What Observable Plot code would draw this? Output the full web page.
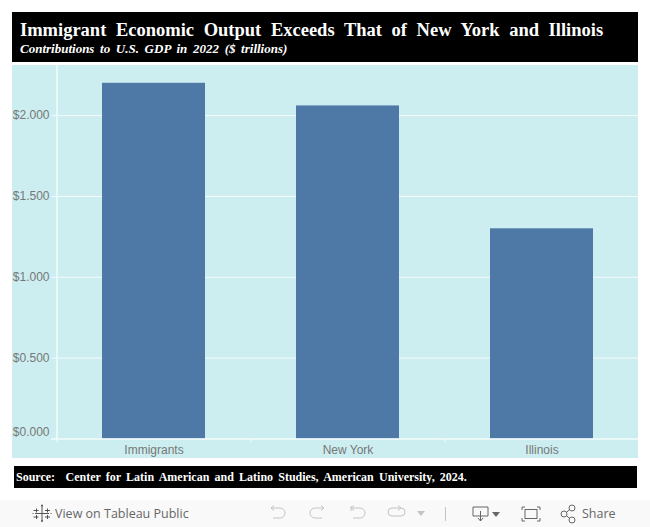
<!DOCTYPE html>
<html><head><meta charset="utf-8">
<script src="https://cdn.jsdelivr.net/npm/d3@7"></script>
<script src="https://cdn.jsdelivr.net/npm/@observablehq/plot@0.6"></script>
<style>
html,body{margin:0;padding:0;background:#fff;width:650px;height:527px;overflow:hidden}
.abs{position:absolute;box-sizing:border-box}
#head{left:12px;top:12px;width:626px;height:50px;background:#000;color:#fff;font-family:"Liberation Serif",serif;font-weight:bold}
#title{position:absolute;left:8px;top:8px;font-size:18.5px;line-height:20px;word-spacing:5px;white-space:nowrap}
#sub{position:absolute;left:8px;top:29px;font-size:13px;line-height:16px;font-style:italic;word-spacing:2.4px;white-space:nowrap}
#chart{left:12px;top:65px;width:626px;height:393px;background:#cceef0}
#chart svg{display:block;background:transparent}
#source{left:14px;top:466px;width:623px;height:22px;background:#000;color:#fff;font:bold 12px/22px "Liberation Serif",serif;padding-left:2px;word-spacing:2.2px;white-space:pre}
#bar{left:0;top:500px;width:650px;height:27px;background:#f9f9f9;color:#666;font-family:"Open Sans","Liberation Sans",sans-serif}
#bar span{position:absolute;top:6px;font-size:12.5px;line-height:15px;white-space:nowrap}
#bar svg{position:absolute;left:0;top:0}
</style></head>
<body>
<div id="head" class="abs"><div id="title">Immigrant Economic Output Exceeds That of New York and Illinois</div><div id="sub">Contributions to U.S. GDP in 2022 ($ trillions)</div></div>
<div id="chart" class="abs"></div>
<div id="source" class="abs">Source:  Center for Latin American and Latino Studies, American University, 2024.</div>
<div id="bar" class="abs">
<svg width="650" height="27" fill="none" stroke-width="1">
<g stroke="#555"><path d="M42 6v15M35 13.500h14M36.500 8.500v4M33.500 10.500h5M47.500 8.500v4M45 10.500h5M36.500 15v4M33.500 17h5M47.500 15v4M45 17h5M42 4.500v2M41 5.500h2M42 20v2M41 21h2M33 13v1M51 13v1"/></g>
<g stroke="#c4c4c4"><path d="M271 8h9a5 5 0 0 1 0 10h-7M271 8l3 -2.500M271 8l3 2.500"/><path d="M324 8h-9a5 5 0 0 0 0 10h7M324 8l-3 -2.500M324 8l-3 2.500"/><path d="M351 6v5M351 8h9a5 5 0 0 1 0 10h-7M351 8l3 -2.500M351 8l3 2.500"/><path d="M401 8h-9a4 4 0 0 0 0 8h9a4 4 0 0 0 0 -8M401 8l-3 -2.500M401 8l-3 2.500"/><path d="M445.500 7v14"/></g>
<path d="M417 11h8l-4 5z" fill="#c4c4c4"/>
<g stroke="#666"><path d="M473 7h15v9h-15zM480.500 11v10M478 18l2.500 3 2.500-3" /><path d="M525 7h-3v3M537 7h3v3M525 21h-3v-3M537 21h3v-3"/><rect x="525" y="9.500" width="12" height="9"/><circle cx="572" cy="8" r="3"/><circle cx="564" cy="14" r="3"/><circle cx="572" cy="20" r="3"/><path d="M566.500 12.500l3-3M566.500 15.500l3 3"/></g>
<path d="M492 12h8l-4 5z" fill="#666"/>
</svg>
<span style="left:55px">View on Tableau Public</span>
<span style="left:582px">Share</span>
</div>
<script>
const categories = ["Immigrants", "New York", "Illinois"];
const values = [2.2, 2.06, 1.3];
const tickValues = [0.5, 1, 1.5, 2];
const table = categories.map((name, i) => ({name, value: values[i]}));
const fmt = d => "$" + d.toFixed(3);
const white = "#f4fbfb", labelColor = "#777777";
const plot = Plot.plot({
  width: 626, height: 393,
  marginTop: 0, marginRight: -0.5, marginBottom: 19.5, marginLeft: 44.5,
  style: {background: "transparent", fontFamily: "'Liberation Sans', Arial, sans-serif", fontSize: "12px", color: labelColor},
  x: {domain: categories, paddingInner: 0.468, paddingOuter: 0.234, align: 0.5, label: null},
  y: {domain: [0, 2.31], label: null},
  marks: [
    Plot.ruleY(tickValues, {stroke: white, strokeWidth: 1, strokeOpacity: 1}),
    Plot.barY(table, {x: "name", y: "value", fill: "#4e79a7"}),
    Plot.axisY(tickValues, {anchor: "left", tickSize: 5, tickPadding: 2.5, stroke: white, fill: labelColor, tickFormat: fmt, fontSize: 12, strokeOpacity: 1, fontVariant: "normal"}),
    Plot.axisY([0], {anchor: "left", tickSize: 5, tickPadding: 2.5, stroke: "none", fill: labelColor, tickFormat: fmt, fontSize: 12, dy: -7, fontVariant: "normal"}),
    Plot.ruleY([0], {stroke: white, strokeWidth: 1.5, insetLeft: -5}),
    Plot.ruleX([0], {x: () => categories[0], dx: -97, stroke: white, strokeWidth: 1.5}),
    Plot.axisX({anchor: "bottom", tickSize: 4, stroke: white, text: null, dx: -97, label: null}),
    Plot.axisX({anchor: "bottom", tickSize: 0, tickPadding: 6, fill: labelColor, fontSize: 12, label: null})
  ]
});
document.getElementById("chart").appendChild(plot);
</script>
</body></html>
